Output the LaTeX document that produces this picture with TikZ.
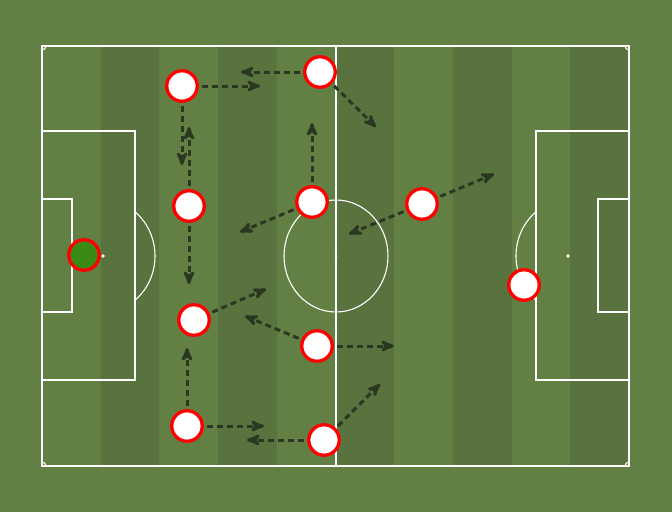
\documentclass[tikz,border=0pt]{standalone}
\usepackage{tikz}
\usetikzlibrary{arrows,shadows}

\definecolor{grass}{RGB}{99,128,68}
\definecolor{grassdark}{RGB}{89,115,63}
\definecolor{runcol}{RGB}{42,56,33}
\definecolor{keepergreen}{RGB}{58,138,24}

\begin{document}
\begin{tikzpicture}[x=1pt,y=-1pt,>=stealth',
    pitch line/.style={white,line width=1.1pt},
    player node/.style={circle,draw=red,line width=3.3pt,fill=white,minimum size=30.5pt,inner sep=0pt,
      drop shadow={opacity=0.25,shadow xshift=0pt,shadow yshift=-1pt}},
    keeper node/.style={player node,fill=keepergreen},
    run line/.style={->,runcol,line width=3pt,dash pattern=on 6pt off 4pt,shorten <=3pt}
    ]

  \useasboundingbox (0,0) rectangle (672,512);
  \fill[grass] (0,0) rectangle (672,512);
  \foreach \i in {1,3,5,7,9}
    \fill[grassdark] ({42+58.7*\i},46) rectangle ({42+58.7*(\i+1)},466);

  % pitch markings
  \draw[pitch line] (42,46) rectangle (629,466);
  \draw[pitch line] (336,46) -- (336,466);
  \draw[pitch line] (336,256) ellipse [x radius=52pt,y radius=56pt];
  \draw[pitch line] (42,131) rectangle (135,380);
  \draw[pitch line] (42,199) rectangle (72,312);
  \draw[pitch line] (629,131) rectangle (536,380);
  \draw[pitch line] (629,199) rectangle (598,312);
  \draw[pitch line] (155,256) arc[start angle=0,end angle=52,x radius=52pt,y radius=56pt]
                    (155,256) arc[start angle=0,end angle=-52,x radius=52pt,y radius=56pt];
  \draw[pitch line] (516,256) arc[start angle=180,end angle=128,x radius=52pt,y radius=56pt]
                    (516,256) arc[start angle=180,end angle=232,x radius=52pt,y radius=56pt];
  \begin{scope}
    \clip (42,46) rectangle (629,466);
    \foreach \cx/\cy in {42/46,629/46,42/466,629/466}
      \draw[pitch line] (\cx,\cy) circle (4pt);
  \end{scope}
  \fill[white] (103,256) circle (1.8pt);
  \fill[white] (568,256) circle (1.8pt);
  \fill[white] (336,256) circle (1.5pt);

  % players
  \node[keeper node] (gk) at (84,255) {};
  \node[player node] (p1) at (182,86) {};
  \node[player node] (p2) at (320,72) {};
  \node[player node] (p3) at (189,206) {};
  \node[player node] (p4) at (312,202) {};
  \node[player node] (p5) at (422,204) {};
  \node[player node] (p6) at (194,320) {};
  \node[player node] (p7) at (317,346) {};
  \node[player node] (p8) at (524,285) {};
  \node[player node] (p9) at (187,426) {};
  \node[player node] (p10) at (324,440) {};

  % run targets
  \coordinate (t1) at (260,86);
  \coordinate (t2) at (182,165);
  \coordinate (t3) at (189,127);
  \coordinate (t4) at (241,72);
  \coordinate (t5) at (376,127);
  \coordinate (t6) at (312,123);
  \coordinate (t7) at (189,284);
  \coordinate (t8) at (240,232);
  \coordinate (t9) at (349,234);
  \coordinate (t10) at (494,174);
  \coordinate (t11) at (266,289);
  \coordinate (t12) at (245,316);
  \coordinate (t13) at (394,346);
  \coordinate (t14) at (187,348);
  \coordinate (t15) at (264,426);
  \coordinate (t16) at (247,440);
  \coordinate (t17) at (380,384);

  \draw[run line] (p1) -- (t1);
  \draw[run line] (p1) -- (t2);
  \draw[run line] (p3) -- (t3);
  \draw[run line] (p2) -- (t4);
  \draw[run line] (p2) -- (t5);
  \draw[run line] (p4) -- (t6);
  \draw[run line] (p3) -- (t7);
  \draw[run line] (p4) -- (t8);
  \draw[run line] (p5) -- (t9);
  \draw[run line] (p5) -- (t10);
  \draw[run line] (p6) -- (t11);
  \draw[run line] (p7) -- (t12);
  \draw[run line] (p7) -- (t13);
  \draw[run line] (p9) -- (t14);
  \draw[run line] (p9) -- (t15);
  \draw[run line] (p10) -- (t16);
  \draw[run line] (p10) -- (t17);

\end{tikzpicture}
\end{document}
